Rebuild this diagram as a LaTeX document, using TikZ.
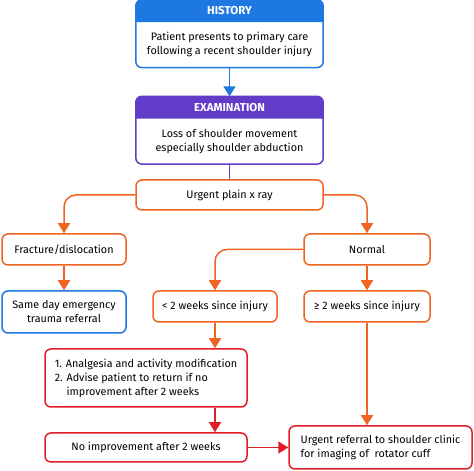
\documentclass[tikz,border=0pt]{standalone}
\usepackage{fontspec}
\setmainfont{Fira Sans}
\usetikzlibrary{arrows.meta, positioning, backgrounds}
\definecolor{histblue}{RGB}{30,120,225}
\definecolor{exampurple}{RGB}{96,60,200}
\definecolor{rayorange}{RGB}{240,100,35}
\definecolor{refred}{RGB}{225,30,40}

\begin{document}
\begin{tikzpicture}[
  x=1pt, y=1pt,
  box/.style={draw, rounded corners=6pt, line width=1.5pt, fill=white, minimum height=31pt, align=center, inner sep=2pt, font=\fontsize{10.8}{14}\selectfont},
  body/.style={minimum width=187pt, minimum height=45pt, align=center, inner sep=0pt, font=\fontsize{10.8}{14}\selectfont},
  head/.style={font=\bfseries\fontsize{11.5}{12}\selectfont, text=white, minimum width=187pt, minimum height=22pt, inner sep=0pt},
  arrow/.style={-{Triangle[length=10pt, width=12pt]}, line width=1.5pt, rounded corners=12pt},
]
\useasboundingbox (0,0) rectangle (474,471);

% Header boxes
\node[head] (histhead) at (229.5,460) {HISTORY};
\node[body, below=0pt of histhead] (hist) {Patient presents to primary care\\following a recent shoulder injury};
\node[head] (examhead) at (229.5,363.5) {EXAMINATION};
\node[body, below=0pt of examhead] (exam) {Loss of shoulder movement\\especially shoulder abduction};

\begin{scope}[on background layer]
\fill[histblue] (hist.north west) [rounded corners=6pt] -- (histhead.north west) -- (histhead.north east) [sharp corners] -- (hist.north east) -- cycle;
\draw[histblue, line width=1.5pt, rounded corners=6pt] (histhead.north west) rectangle (hist.south east);
\fill[exampurple] (exam.north west) [rounded corners=6pt] -- (examhead.north west) -- (examhead.north east) [sharp corners] -- (exam.north east) -- cycle;
\draw[exampurple, line width=1.5pt, rounded corners=6pt] (examhead.north west) rectangle (exam.south east);
\end{scope}

% Nodes
\node[box, draw=rayorange, minimum width=187pt, minimum height=30pt] (xray) at (229.5,276) {Urgent plain x ray};
\node[box, draw=rayorange, minimum width=124pt] (frac) at (64,221.5) {Fracture/dislocation};
\node[box, draw=rayorange, minimum width=126pt] (normal) at (367,221.5) {Normal};
\node[box, draw=histblue, minimum width=124pt, minimum height=42pt] (sameday) at (64,159) {Same day emergency\\trauma referral};
\node[box, draw=rayorange, minimum width=124pt] (lt2) at (215,164.5) {< 2 weeks since injury};
\node[box, draw=rayorange, minimum width=126pt] (ge2) at (367,164.5) {≥ 2 weeks since injury};
\node[box, draw=refred, minimum width=202pt, minimum height=58pt, align=left] (analg) at (146,93)
  {1. Analgesia and activity modification\\2. Advise patient to return if no\\\hphantom{2. }improvement after 2 weeks};
\node[box, draw=refred, minimum width=202pt, minimum height=29pt] (noimp) at (146,23.5) {No improvement after 2 weeks};
\node[box, draw=refred, minimum width=183pt, minimum height=43pt, align=left] (urgent) at (380.5,23.5)
  {Urgent referral to shoulder clinic\\for imaging of \ rotator cuff};

% Arrows
\draw[arrow, histblue] (hist.south) -- (examhead.north);
\draw[line width=1.5pt, exampurple] (exam.south) -- (xray.north);
\draw[arrow, rayorange] (xray.west) -| (frac.north);
\draw[arrow, rayorange] (xray.east) -| (normal.north);
\draw[arrow, rayorange] (frac.south) -- (sameday.north);
\draw[arrow, rayorange] (normal.west) -| (lt2.north);
\draw[arrow, rayorange] (normal.south) -- (ge2.north);
\draw[arrow, rayorange] (lt2.south) -- (lt2.south |- analg.north);
\draw[arrow, rayorange] (ge2.south) -- (ge2.south |- urgent.north);
\draw[arrow, refred] (analg.south -| lt2.south) -- (noimp.north -| lt2.south);
\draw[arrow, refred] (noimp.east) -- (noimp.east -| urgent.west);

\end{tikzpicture}
\end{document}
